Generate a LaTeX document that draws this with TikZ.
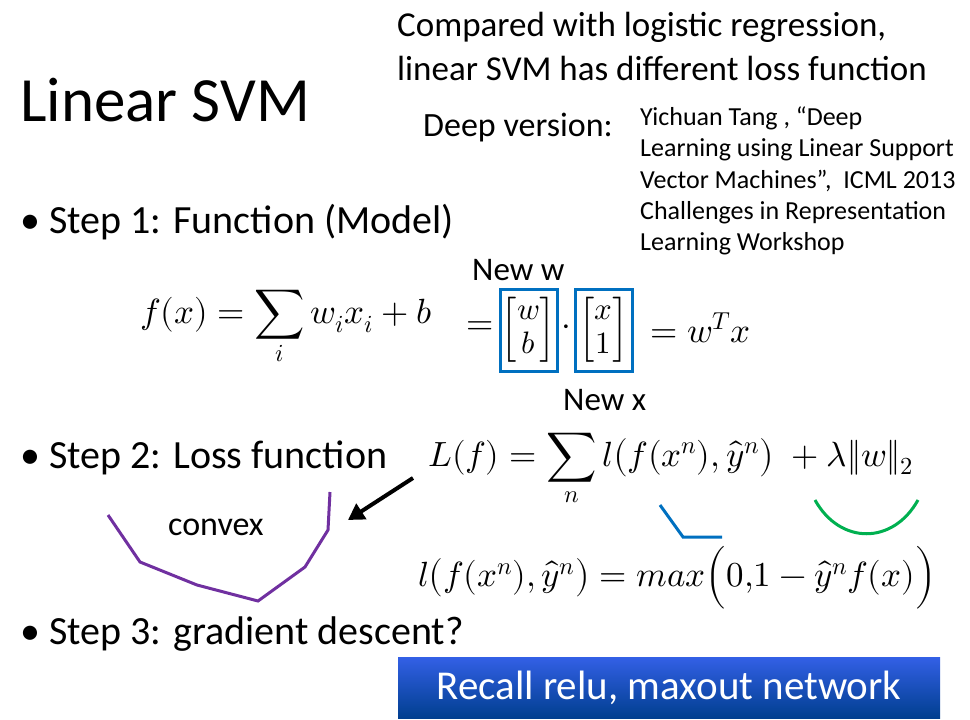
\documentclass[tikz,border=0pt]{standalone}
\usepackage{amsmath}
\usepackage{unicode-math}
\setmainfont{Carlito}
\setmathfont{Latin Modern Math}
\usetikzlibrary{arrows.meta}
\definecolor{bbox}{RGB}{0,112,192}
\definecolor{purp}{RGB}{112,48,160}
\definecolor{grn}{RGB}{0,176,80}
\tikzset{
 txt/.style={anchor=west,inner sep=0pt,font=\fontsize{#1}{#1}\selectfont},
 mth/.style={inner sep=0pt,font=\fontsize{35}{38}\selectfont},
}
\begin{document}
\begin{tikzpicture}[x=1pt,y=-1pt]
\useasboundingbox (0,0) rectangle (970,720);
\node[txt=63] (title) at (20,100) {Linear SVM};
\node[txt=35] (c1) at (397,27) {Compared with logistic regression,};
\node[txt=35] (c2) at (397,68) {linear SVM has different loss function};
\node[txt=34] (dv) at (423,128) {Deep version:};
\foreach \t [count=\i] in {{Yichuan Tang , “Deep},{Learning using Linear Support},{Vector Machines”,~ ICML 2013},{Challenges in Representation},{Learning Workshop}}
  \node[txt=26] (r\i) at (640,{118+31.5*(\i-1)}) {\t};
\node[txt=40] (s1) at (20,222) {• Step 1: Function (Model)};
\node[txt=40] (s2) at (20,458) {• Step 2: Loss function};
\node[txt=40] (s3) at (20,634) {• Step 3: gradient descent?};
\node[mth,anchor=west] (e1) at (140,328) {$f(x)=\displaystyle\sum_i w_i x_i+b$};
\node[mth,anchor=east] (eq) at (494,328) {$=$};
\node[font=\fontsize{31}{34}\selectfont,inner sep=0pt] (m1) at (528.5,330) {$\begin{bmatrix}w\\ b\end{bmatrix}$};
\node[mth] (dot) at (566,330) {$\cdot$};
\node[font=\fontsize{31}{34}\selectfont,inner sep=0pt] (m2) at (603.5,330) {$\begin{bmatrix}x\\ 1\end{bmatrix}$};
\node[mth,anchor=west] (wt) at (650,328) {$=w^T x$};
\draw[bbox,line width=3] (500,289) rectangle (557,371);
\draw[bbox,line width=3] (575,289) rectangle (632,371);
\node[txt=33] (nw) at (472,270) {New w};
\node[txt=33] (nx) at (563,400) {New x};
\node[mth,anchor=west] (e2) at (428,470) {$L(f)=\displaystyle\sum_n l\big(f(x^n),\hat y^n\big)\;+\lambda\|w\|_2$};
\node[mth,anchor=west] (e3) at (418,578) {$l\big(f(x^n),\hat y^n\big)=max\Big(0{,}1-\hat y^n f(x)\Big)$};
\draw[bbox,line width=3] (660,505) -- (683,537) -- (722,537);
\draw[grn,line width=3] (815,500) .. controls (840,545) and (893,545) .. (918,500);
\draw[purp,line width=3] (108,515) -- (140,562) -- (197,585) -- (258,601) -- (305,567) -- (328,530) -- (330,492);
\node[txt=34] (cv) at (168,527) {convex};
\coordinate (a1) at (413,478);
\coordinate (a2) at (348,520);
\draw[line width=4,-{Triangle[length=16pt,width=18pt]}] (a1) -- (a2);
\shade[top color=blue!50!bbox!80!white,bottom color=bbox!80!blue!70!black] (398,657) rectangle (940,718);
\node[txt=41,text=white,anchor=center] (rc) at (669,688) {Recall relu, maxout network};
\end{tikzpicture}
\end{document}
